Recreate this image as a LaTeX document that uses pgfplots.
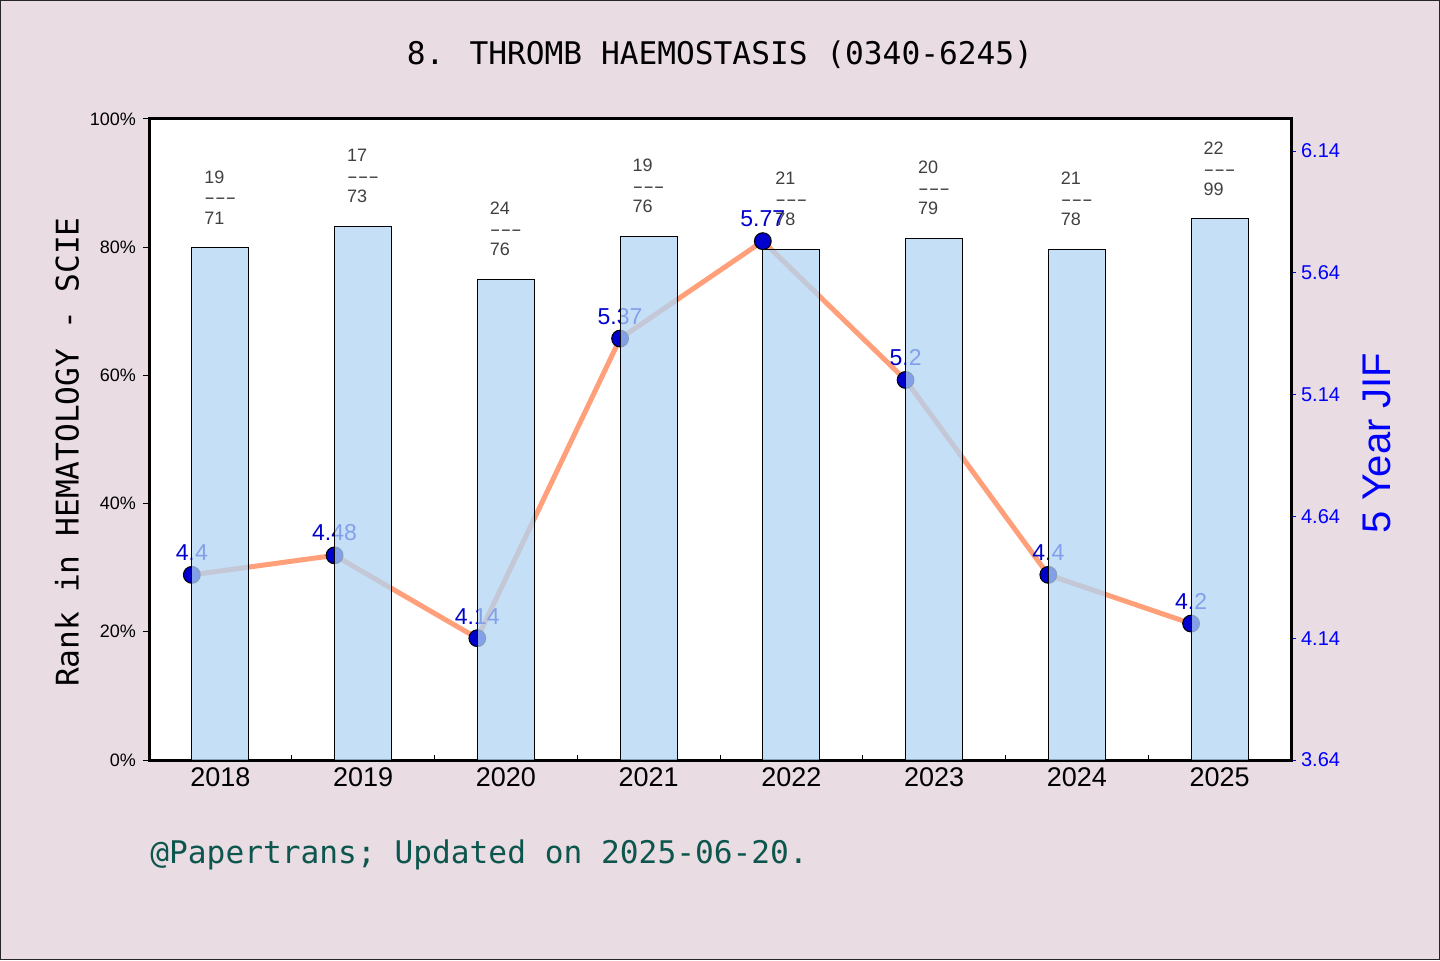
\documentclass[border=0pt]{standalone}
\usepackage{pgfplots}
\pgfplotsset{compat=1.18}
\usepackage{fontspec}
\setmainfont{Liberation Sans}
\newfontfamily\monof{DejaVu Sans Mono}
\definecolor{bgpink}{RGB}{234,220,227}
\definecolor{barfill}{RGB}{177,213,244}
\definecolor{salmonl}{RGB}{255,160,122}
\definecolor{jifblue}{RGB}{0,0,205}
\definecolor{rankgrey}{RGB}{64,64,64}
\definecolor{footteal}{RGB}{13,86,78}
\newcommand{\dsh}{\scalebox{1.78}[1]{-{}-{}-}}
\begin{document}
\begin{tikzpicture}[x=1pt,y=1pt]
\path[use as bounding box] (0,0) rectangle (720,480);
\fill[bgpink] (0,0) rectangle (720,480);
\draw[black!85, line width=0.5pt] (0.25,0.25) rectangle (719.75,479.75);
% JIF line (drawn first, so bars overlay it)
\begin{axis}[
  at={(74.5pt,100pt)}, anchor=south west, scale only axis,
  width=571pt, height=320.5pt,
  xmin=-0.5, xmax=7.5, ymin=3.64, ymax=6.2714,
  axis x line=none, axis y line*=right,
  axis background/.style={fill=white},
  ytick={3.64,4.14,4.64,5.14,5.64,6.14},
  yticklabels={3.64,4.14,4.64,5.14,5.64,6.14},
  yticklabel style={color=blue, font=\fontsize{10}{12}\selectfont, xshift=-1pt},
  ytick style={draw=blue, line width=0.5pt},
  tick align=outside, major tick length=2.5pt,
  y axis line style={draw=black, line width=1.5pt},
  clip=false,
]
\addplot[color=salmonl, line width=2.5pt, mark=*, mark size=4.2pt,
  mark options={fill=jifblue, draw=black, line width=0.5pt},
  nodes near coords, point meta=explicit symbolic,
  every node near coord/.style={anchor=south, yshift=3.5pt, text=jifblue,
    font=\fontsize{11.5}{13}\selectfont}]
coordinates {
(-0.2,4.40) [4.4]
(0.8,4.48) [4.48]
(1.8,4.14) [4.14]
(2.8,5.37) [5.37]
(3.8,5.77) [5.77]
(4.8,5.20) [5.2]
(5.8,4.40) [4.4]
(6.8,4.20) [4.2]
};
\end{axis}
% Rank bars
\begin{axis}[
  at={(74.5pt,100pt)}, anchor=south west, scale only axis,
  width=571pt, height=320.5pt,
  xmin=-0.5, xmax=7.5, ymin=0, ymax=100,
  axis line style={line width=1.5pt},
  ytick={0,20,40,60,80,100},
  yticklabels={0\%,20\%,40\%,60\%,80\%,100\%},
  ytick pos=left,
  yticklabel style={font=\fontsize{9}{11}\selectfont},
  ytick style={draw=black, line width=0.5pt},
  tick align=outside, major tick length=3pt,
  xtick={0,1,2,3,4,5,6,7},
  xticklabels={2018,2019,2020,2021,2022,2023,2024,2025},
  xtick pos=bottom,
  xticklabel style={font=\fontsize{13.5}{16}\selectfont, yshift=2.5pt},
  xtick style={draw=none},
  extra x ticks={0.5,1.5,2.5,3.5,4.5,5.5,6.5},
  extra x tick labels={},
  extra x tick style={xtick style={draw=black, line width=0.5pt}, tick align=inside, major tick length=2.5pt},
  clip=false,
]
\addplot[ybar, bar width=0.4, fill=barfill, fill opacity=0.75, draw=black, line width=0.5pt,
  nodes near coords, point meta=explicit symbolic,
  every node near coord/.style={anchor=south, yshift=8pt, align=left, text=rankgrey,
    text opacity=1, fill opacity=1, font=\fontsize{9}{10.25}\selectfont}]
coordinates {
(0,80.0) [{19\\\dsh\\71}]
(1,83.3) [{17\\\dsh\\73}]
(2,75.0) [{24\\\dsh\\76}]
(3,81.7) [{19\\\dsh\\76}]
(4,79.7) [{21\\\dsh\\78}]
(5,81.4) [{20\\\dsh\\79}]
(6,79.7) [{21\\\dsh\\78}]
(7,84.4) [{22\\\dsh\\99}]
};
\end{axis}
\node[font=\monof\fontsize{15.6}{18}\selectfont] at (360,452.5) {8. THROMB HAEMOSTASIS (0340-6245)};
\node[anchor=west, inner sep=0pt, text=footteal, font=\monof\fontsize{15.6}{18}\selectfont] at (75,52.5) {@Papertrans; Updated on 2025-06-20.};
\node[rotate=90, font=\monof\fontsize{15.6}{18}\selectfont] at (33.5,254) {Rank in HEMATOLOGY - SCIE};
\node[rotate=90, text=blue, font=\fontsize{20}{23}\selectfont] at (688.5,258.5) {5 Year JIF};
\end{tikzpicture}
\end{document}
